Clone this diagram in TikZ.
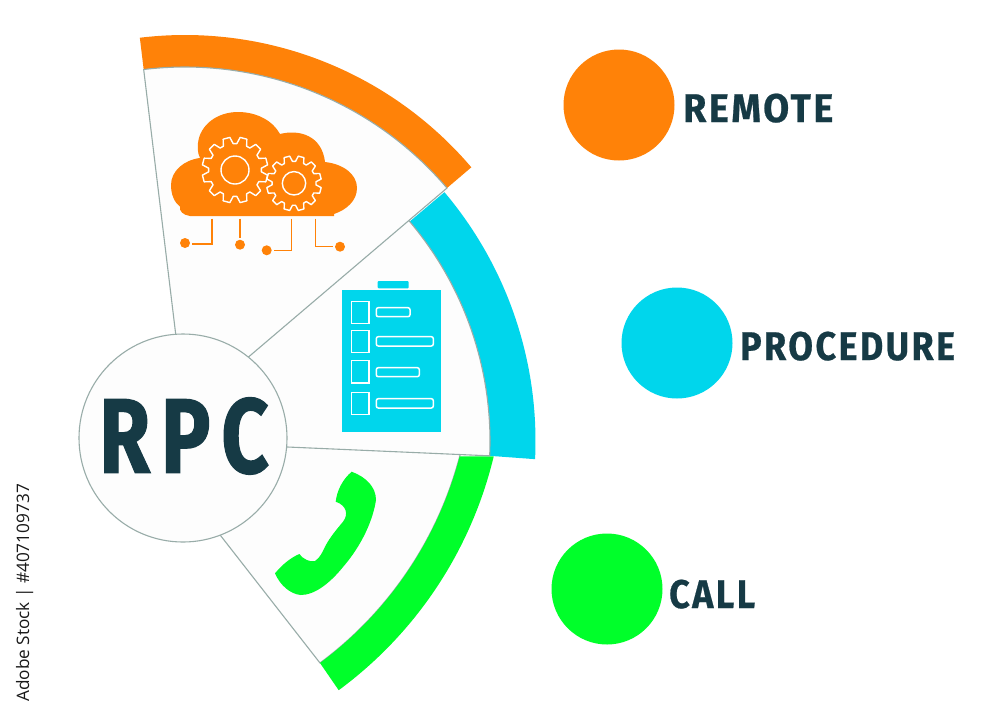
\documentclass[tikz,border=0pt]{standalone}
\usepackage{fontspec}
\newfontfamily\wordfont[LetterSpace=7,BoldFeatures={FakeBold=0.6}]{Fira Sans}
\newfontfamily\hubfont[LetterSpace=13,BoldFeatures={FakeBold=1.2}]{Fira Sans}
\newfontfamily\creditfont{Open Sans}
\definecolor{rpcorange}{HTML}{FF8208}
\definecolor{rpcblue}{HTML}{00D6EC}
\definecolor{rpcgreen}{HTML}{00FF2A}
\definecolor{rpcdark}{HTML}{163A45}
\definecolor{rpcline}{HTML}{98ACA8}
\definecolor{rpcpanel}{HTML}{FDFDFD}
\tikzset{
  panel/.style={fill=rpcpanel,draw=rpcline,line width=1.1pt,line join=round},
  dotbig/.style={circle,minimum size=111pt,inner sep=0pt},
  wordlabel/.style={anchor=base west,inner sep=0pt,text=rpcdark,transform shape,font=\wordfont\bfseries\fontsize{40}{40}\selectfont},
  gearline/.style={draw=white,line width=1.4pt,line join=round},
  wire/.style={draw=rpcorange,line width=1.6pt},
  pin/.style={fill=rpcorange},
  boxline/.style={draw=white,line width=1.5pt},
  smpl/.style={samples=70,smooth}
}
\newcommand{\gearshape}[5]{% cx cy router rinner rring
  \draw[gearline] ({#1+#4*cos(4)},{#2-#4*sin(4)})
    foreach \a in {15,45,...,345} {
      -- ({#1+#4*cos(\a-11)},{#2-#4*sin(\a-11)})
      -- ({#1+#3*cos(\a-6)},{#2-#3*sin(\a-6)})
      -- ({#1+#3*cos(\a+6)},{#2-#3*sin(\a+6)})
      -- ({#1+#4*cos(\a+11)},{#2-#4*sin(\a+11)})
    } -- cycle;
  \draw[gearline] (#1,#2) circle[radius=#5pt];
}
\begin{document}
\begin{tikzpicture}[x=1pt,y=-1pt]
\useasboundingbox (0,0) rectangle (1000,718);
\fill[white] (0,0) rectangle (1000,718);

% green sector
\path[panel] (146,440) -- (320,663) -- plot[smpl,domain=-53.4:-10] ({96+376*cos(\x)},{361-376*sin(\x)}) -- cycle;
\fill[rpcgreen] plot[smpl,domain=-13.5:-53.6] ({96+409*cos(\x)},{361-409*sin(\x)}) -- (320,663) -- plot[smpl,domain=-53.4:-14.7] ({96+376*cos(\x)},{361-376*sin(\x)}) -- cycle;

% blue sector
\fill[rpcblue] plot[smpl,domain=-2.7:40.2] ({150+385.5*cos(\x)},{441-385.5*sin(\x)}) -- plot[smpl,domain=40.2:-2.5] ({150+340*cos(\x)},{441-340*sin(\x)}) -- cycle;
\path[panel] (150,441) -- plot[smpl,domain=-2.5:41.5] ({150+340*cos(\x)},{441-340*sin(\x)}) -- cycle;

% orange sector
\fill[rpcorange] plot[smpl,domain=96.9:40.4] ({185+376*cos(\x)},{411-376*sin(\x)}) -- plot[smpl,domain=40.4:96.9] ({185+344*cos(\x)},{411-344*sin(\x)}) -- cycle;
\path[panel] (185,411) -- plot[smpl,domain=40.4:96.9] ({185+344*cos(\x)},{411-344*sin(\x)}) -- cycle;

% cloud
\fill[rpcorange] (190,216) .. controls (183,215) and (179,211) .. (180,206.7)
  .. controls (174,202) and (171,194) .. (171,185)
  .. controls (171,171) and (184,160) .. (200,158)
  .. controls (197,152) and (198,147) .. (198,143)
  .. controls (200,125) and (217,112) .. (238,112)
  .. controls (257,112) and (273,121) .. (280,134)
  .. controls (300,129) and (322,136) .. (325,162)
  .. controls (343,164) and (357,174) .. (357,188)
  .. controls (357,201) and (346,210) .. (334,214)
  -- (334,216) -- cycle;
\gearshape{235}{170}{33}{26.5}{14}
\gearshape{294}{183.3}{27.5}{22}{11.7}

% circuit wires
\coordinate (w1a) at (211.7,218.7); \coordinate (w1b) at (211.7,244); \coordinate (w1c) at (192.3,244);
\coordinate (w2a) at (239.7,218.7); \coordinate (w2b) at (239.7,238);
\coordinate (w3a) at (291.3,218.7); \coordinate (w3b) at (291.3,250.3); \coordinate (w3c) at (274,250.3);
\coordinate (w4a) at (315.3,218.7); \coordinate (w4b) at (315.3,246.3); \coordinate (w4c) at (333.3,246.3);
\draw[wire] (w1a) -- (w1b) -- (w1c);
\draw[wire] (w2a) -- (w2b);
\draw[wire] (w3a) -- (w3b) -- (w3c);
\draw[wire] (w4a) -- (w4b) -- (w4c);
\fill[pin] (185,243) circle[radius=5pt];
\fill[pin] (240,244.7) circle[radius=5pt];
\fill[pin] (266.7,250.3) circle[radius=5pt];
\fill[pin] (340,246.7) circle[radius=5pt];

% clipboard
\fill[rpcblue] (342.3,290) rectangle (440.7,431.7);
\fill[rpcblue,rounded corners=1pt] (377.7,281) rectangle (408.7,288.3);
\draw[boxline] (351.7,301.3) rectangle (369,323.3);
\draw[boxline] (351.7,330.3) rectangle (369,352.3);
\draw[boxline] (351.7,360.7) rectangle (369,383);
\draw[boxline] (351.7,392.7) rectangle (369,414.3);
\draw[boxline,rounded corners=2pt] (376.3,307.7) rectangle (410,316.7);
\draw[boxline,rounded corners=2pt] (376.3,336.7) rectangle (433.3,346);
\draw[boxline,rounded corners=2pt] (376.3,367.7) rectangle (419.3,376.7);
\draw[boxline,rounded corners=2pt] (376.3,398.7) rectangle (433.3,408);

% phone
\fill[rpcgreen] (351.7,471.7) .. controls (366,477) and (376,487) .. (376,500)
  .. controls (373,520) and (362,545) .. (343,567)
  .. controls (330,583) and (315,595) .. (300.7,595)
  .. controls (290,594) and (280,585) .. (275,573.3)
  .. controls (282,565) and (290,558) .. (299.3,554)
  .. controls (303,559) and (310,562.5) .. (315,561)
  .. controls (320,558) and (323,551) .. (325,546.7)
  .. controls (330,537) and (337,529) .. (343,521.7)
  .. controls (349,514) and (346,505) .. (335.7,501.7)
  .. controls (337,490) and (343,479) .. (351.7,471.7) -- cycle;

% hub
\node[circle,minimum size=208pt,inner sep=0pt,fill=rpcpanel,draw=rpcline,line width=1.1pt] (hub) at (183,438) {};
\begin{scope}[xscale=.78]
\node[anchor=base west,inner sep=0pt,text=rpcdark,transform shape,font=\hubfont\bfseries\fontsize{106}{106}\selectfont] (rpc) at (99/.78,472.7) {RPC};
\end{scope}

% legend
\node[dotbig,fill=rpcorange] (dotr) at (619,105) {};
\node[dotbig,fill=rpcblue] (dotp) at (677,343) {};
\node[dotbig,fill=rpcgreen] (dotc) at (607,589) {};
\begin{scope}[xscale=.94]
\node[wordlabel] (remote) at (683/.94,122) {REMOTE};
\end{scope}
\begin{scope}[xscale=.895]
\node[wordlabel] (proc) at (740/.895,360) {PROCEDURE};
\node[wordlabel] (call) at (669/.895,608) {CALL};
\end{scope}

% credit
\node[anchor=base west,inner sep=0pt,rotate=90,text=black!90,font=\creditfont\fontsize{17.2}{17.2}\selectfont] (credit) at (29,702) {Adobe Stock | \#407109737};
\end{tikzpicture}
\end{document}
